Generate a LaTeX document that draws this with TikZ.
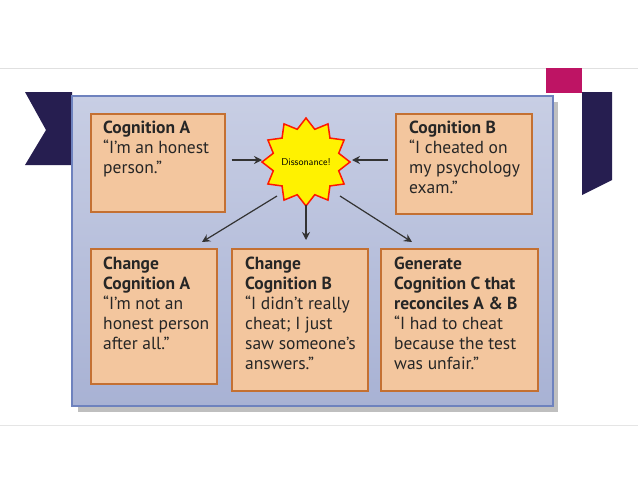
\documentclass[tikz,border=0pt]{standalone}
\usepackage{fontspec}
\setmainfont{PT Sans}
\usetikzlibrary{shapes.geometric,arrows.meta,shadows}
\definecolor{boxfill}{RGB}{243,198,158}
\definecolor{boxline}{RGB}{196,112,50}
\definecolor{navy}{RGB}{38,30,80}
\definecolor{panelA}{RGB}{200,206,228}
\definecolor{panelB}{RGB}{168,178,212}
\definecolor{panelline}{RGB}{110,130,190}
\definecolor{mag}{RGB}{190,20,100}
\tikzset{
 cbox/.style={draw=boxline,line width=1.6pt,fill=boxfill,anchor=north west,inner sep=0pt},
 txt/.style={anchor=north west,align=left,font=\fontsize{17.5}{20}\selectfont,text=black!85,inner sep=0pt},
 arr/.style={-{Stealth[length=8pt,width=8pt]},line width=1.2pt,draw=black!80}
}
\begin{document}
\begin{tikzpicture}[x=1pt,y=-1pt]
\useasboundingbox (0,0) rectangle (638,493);
\fill[white] (0,0) rectangle (638,493);
\draw[black!12,line width=0.8pt] (0,68) -- (638,68);
\draw[black!10,line width=0.8pt] (0,425) -- (638,425);
\fill[navy] (25,92) -- (72,92) -- (72,165) -- (25,165) -- (46,130) -- cycle;
\fill[navy] (582,92) -- (612,92) -- (612,180) -- (582,195) -- cycle;
\fill[mag] (546,68) rectangle (582,93);
\fill[black!25] (78,102) rectangle (558,412);
\shade[top color=panelA,bottom color=panelB,draw=panelline,line width=1.2pt] (72,96) rectangle (553,406);
\node[cbox,minimum width=134pt,minimum height=98pt] (a) at (90,113) {};
\node[txt] at (103,121) {\textbf{Cognition A}\\“I'm an honest\\person.”};
\node[cbox,minimum width=136pt,minimum height=100pt] (b) at (395,113) {};
\node[txt] at (409,121) {\textbf{Cognition B}\\“I cheated on\\my psychology\\exam.”};
\node[cbox,minimum width=126pt,minimum height=135pt] (c) at (90,248) {};
\node[txt] at (103,257) {\textbf{Change}\\\textbf{Cognition A}\\“I'm not an\\honest person\\after all.”};
\node[cbox,minimum width=136pt,minimum height=142pt] (d) at (231,248) {};
\node[txt] at (245,257) {\textbf{Change}\\\textbf{Cognition B}\\“I didn't really\\cheat; I just\\saw someone's\\answers.”};
\node[cbox,minimum width=157pt,minimum height=142pt] (e) at (380,248) {};
\node[txt] at (394,257) {\textbf{Generate}\\\textbf{Cognition C that}\\\textbf{reconciles A \& B}\\“I had to cheat\\because the test\\was unfair.”};
\node[star,star points=12,star point ratio=1.3,minimum size=88pt,inner sep=0pt,fill=yellow,draw=red!80!orange,line width=1.5pt] (s) at (306,162) {};
\node[font=\sffamily\fontsize{10}{10}\selectfont,inner sep=0pt] at (s.center) {Dissonance!};
\coordinate (s1) at (262,160); \coordinate (s2) at (352,160);
\coordinate (s3) at (277,196); \coordinate (s4) at (306,205); \coordinate (s5) at (340,196);
\draw[arr] (a.east|-s1) ++(6,0) -- (s1);
\draw[arr] (b.west|-s2) ++(-7,0) -- (s2);
\draw[arr] (s3) -- (202,242);
\draw[arr] (s4) -- (306,240);
\draw[arr] (s5) -- (412,242);
\end{tikzpicture}
\end{document}
